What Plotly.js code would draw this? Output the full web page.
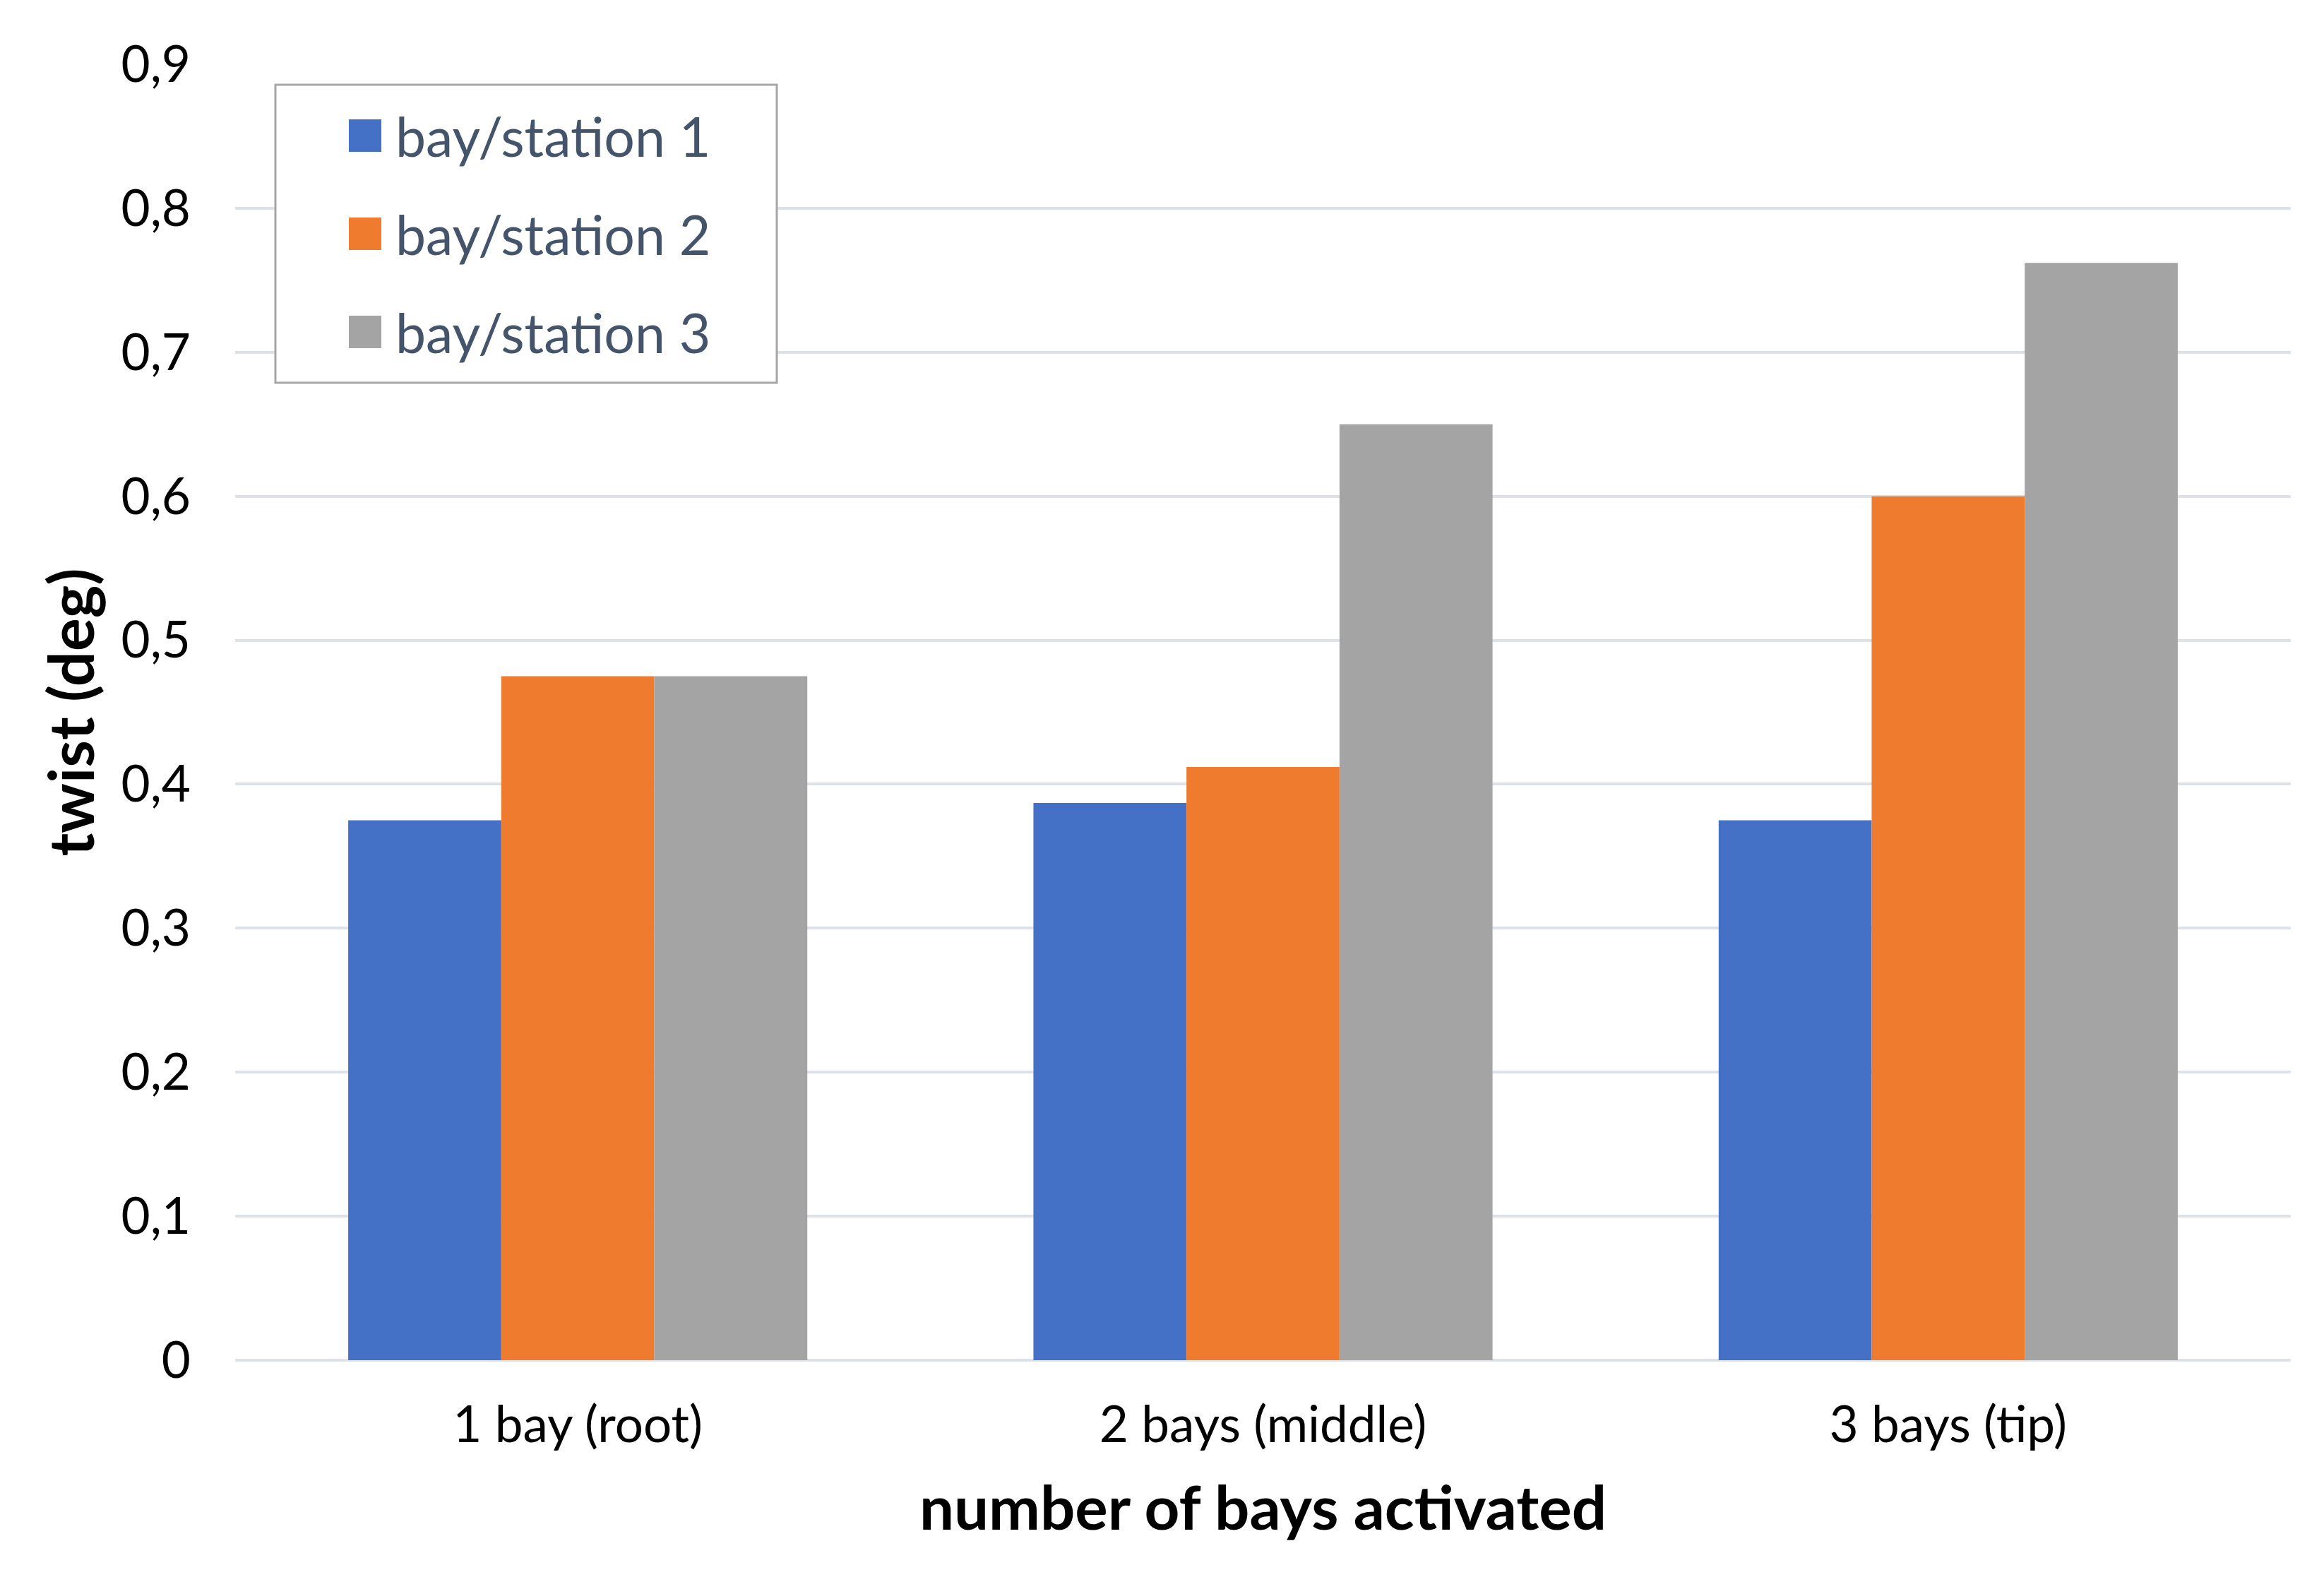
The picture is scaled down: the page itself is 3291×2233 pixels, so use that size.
<!DOCTYPE html>
<html>
<head>
<meta charset="utf-8">
<script src="https://cdn.plot.ly/plotly-3.0.1.min.js"></script>
<style>html,body{margin:0;padding:0;background:#fff;}</style>
</head>
<body>
<div id="chart" style="width:3291px;height:2233px;"></div>
<script>
// ---- data ----
const categories = ["1 bay (root)", "2 bays (middle)", "3 bays (tip)"];
const seriesNames = ["bay/station 1", "bay/station 2", "bay/station 3"];
const station1 = [0.375, 0.387, 0.375];
const station2 = [0.475, 0.412, 0.600];
const station3 = [0.475, 0.650, 0.762];
const seriesColors = ["#4470C6", "#EE7B2E", "#A4A4A4"];
const xTitle = "number of bays activated";
const yTitle = "twist (deg)";

const W = 3291, H = 2233;
const M = {l: 333, r: 47, t: 91, b: 307};
const FONT = "Lato, 'Open Sans', sans-serif";

const values = [station1, station2, station3];
const traces = values.map((v, i) => ({
  type: "bar",
  x: categories,
  y: v,
  name: seriesNames[i],
  marker: {color: seriesColors[i], line: {width: 0}},
  showlegend: false,
  hoverinfo: "x+y+name"
}));

// pixel -> paper helpers for the hand-built legend box
const pw = W - M.l - M.r, ph = H - M.t - M.b;
const px = p => (p - M.l) / pw;
const py = p => (H - M.b - p) / ph;

const shapes = [{
  type: "rect", xref: "paper", yref: "paper",
  x0: px(390), x1: px(1100), y0: py(542), y1: py(120),
  line: {color: "#A6A6A6", width: 3}, fillcolor: "#FFFFFF", layer: "above"
}];
const annotations = [];
const itemY = [192, 331, 470];
seriesNames.forEach((n, i) => {
  shapes.push({
    type: "rect", xref: "paper", yref: "paper",
    x0: px(494), x1: px(540), y0: py(itemY[i] + 23), y1: py(itemY[i] - 23),
    line: {width: 0}, fillcolor: seriesColors[i], layer: "above"
  });
  annotations.push({
    xref: "paper", yref: "paper", x: px(558), y: py(itemY[i]),
    xanchor: "left", yanchor: "middle", showarrow: false, text: n,
    font: {family: FONT, size: 77, color: "#44546A"}
  });
});

const layout = {
  width: W, height: H,
  margin: M,
  paper_bgcolor: "#FFFFFF", plot_bgcolor: "#FFFFFF",
  separators: ",.",
  barmode: "group", bargap: 0.33, bargroupgap: 0,
  showlegend: false,
  font: {family: FONT, color: "#000000"},
  xaxis: {
    type: "category", range: [-0.5, 2.5],
    showgrid: false, zeroline: false, showline: false, ticks: "",
    tickfont: {family: FONT, size: 71, color: "#000000"},
    ticklabelstandoff: 44,
    title: {text: xTitle, font: {family: FONT, size: 87, color: "#000000", weight: "bold"}, standoff: 49},
    automargin: false
  },
  yaxis: {
    range: [0, 0.9], dtick: 0.1, tick0: 0,
    showgrid: true, gridcolor: "#DDE2E8", gridwidth: 4,
    zeroline: true, zerolinecolor: "#DDE2E8", zerolinewidth: 4,
    showline: false, ticks: "",
    tickfont: {family: FONT, size: 71, color: "#000000"},
    ticklabelstandoff: 62,
    title: {text: yTitle, font: {family: FONT, size: 88, color: "#000000", weight: "bold"}, standoff: 8},
    automargin: false
  },
  shapes: shapes,
  annotations: annotations
};

Plotly.newPlot("chart", traces, layout, {displayModeBar: false, responsive: false});
</script>
</body>
</html>
